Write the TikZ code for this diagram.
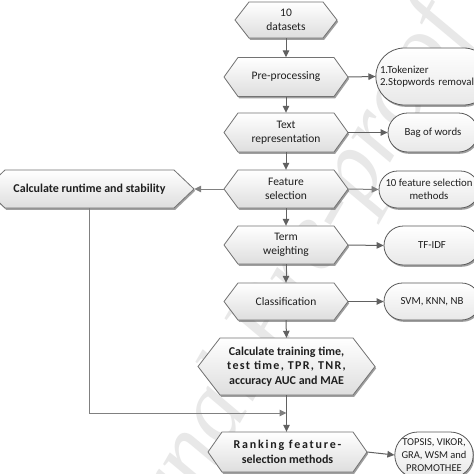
\documentclass[tikz,border=0pt]{standalone}
\usepackage{fontspec}
\setmainfont{Carlito}
\newfontfamily\wmfont{Liberation Serif}
\usetikzlibrary{arrows.meta,shapes.misc,shadows,calc}
\newcommand\fmain{\fontsize{11.5}{13.5}\selectfont}
\newcommand\fbig{\fontsize{12}{14.5}\selectfont\bfseries}
\newcommand\fboxt{\fontsize{10.8}{12.5}\selectfont}
\tikzset{
  shad/.style={drop shadow={shadow xshift=1.2pt, shadow yshift=-1.8pt, opacity=0.5, fill=black!75}},
  hexsty/.style={draw=black!55, line width=0.8pt, top color=white, bottom color=black!13, shad},
  hextxt/.style={inner sep=0pt, align=center, text=black!88},
  rbox/.style={rounded rectangle, draw=black!65, line width=0.8pt, top color=white, bottom color=black!9, shad,
    align=center, inner sep=2pt, font=\fboxt, text=black!88},
  conn/.style={draw=black!62, line width=1pt, -{Triangle[length=7pt,width=6.5pt]}},
  connl/.style={draw=black!50, line width=1pt, -{Triangle[length=7pt,width=6.5pt]}}
}
% name, cx, cy, half width, half height, slant, text, font
\newcommand\hexnode[8]{%
  \path[hexsty] (#2-#4,#3) -- (#2-#4+#6,#3-#5) -- (#2+#4-#6,#3-#5) -- (#2+#4,#3)
     -- (#2+#4-#6,#3+#5) -- (#2-#4+#6,#3+#5) -- cycle;
  \node[hextxt, minimum width=2*#4pt, minimum height=2*#5pt, font=#8] (#1) at (#2,#3) {#7};}
\begin{document}
\begin{tikzpicture}[x=1pt,y=-1pt]
\useasboundingbox (0,0) rectangle (474,474);
\fill[white] (0,0) rectangle (474,474);
% watermark
\node[rotate=60, text=black!9, font=\wmfont\itshape\fontsize{100}{100}\selectfont, inner sep=0pt] (wm) at (268,326) {Journal Pre-proof};
% main column
\hexnode{ds}{286}{20}{51}{18}{14}{10\\datasets}{\fmain}
\hexnode{pre}{286}{77}{62}{19.5}{14}{Pre-processing}{\fmain}
\hexnode{txt}{286}{132.5}{62}{19.5}{14}{Text\\representation}{\fmain}
\hexnode{fs}{286}{189}{62}{19}{14}{Feature\\selection}{\fmain}
\hexnode{tw}{286}{245}{62}{19}{14}{Term\\weighting}{\fmain}
\hexnode{cl}{286}{301.5}{62}{18.5}{14}{Classification}{\fmain}
\hexnode{calc}{286.5}{366.5}{88.5}{28.5}{22}{Calculate training time,\\{\addfontfeatures{LetterSpace=11}test time, TPR, TNR,}\\accuracy AUC and MAE}{\fbig}
\hexnode{rank}{287.5}{452}{79.5}{20}{14}{{\addfontfeatures{LetterSpace=15}Ranking feature-}\\selection methods}{\fbig}
\hexnode{run}{89.5}{189}{104.5}{19}{20}{Calculate runtime and stability}{\fbig}
% right boxes
\node[rbox, minimum width=112pt, minimum height=57pt, align=left, text width=108pt, inner xsep=2pt] (tok) at (434,76.5) {1.Tokenizer\\2.Stopwords removal};
\node[rbox, minimum width=94pt, minimum height=39pt] (bag) at (433,132.5) {Bag of words};
\node[rbox, minimum width=104pt, minimum height=37pt] (fsm) at (429,189.5) {10 feature selection\\methods};
\node[rbox, minimum width=100pt, minimum height=39pt] (tfidf) at (432,245.5) {TF-IDF};
\node[rbox, minimum width=100pt, minimum height=37pt] (svm) at (432,301.5) {SVM, KNN, NB};
\node[rbox, minimum width=78pt, minimum height=46pt, inner sep=0pt, font=\fontsize{10.5}{12.8}\selectfont] (top) at (434,455) {TOPSIS, VIKOR,\\GRA, WSM and\\PROMOTHEE};
% vertical connectors
\draw[conn] (ds.south) -- (pre.north);
\draw[conn] (pre.south) -- (txt.north);
\draw[conn] (txt.south) -- (fs.north);
\draw[conn] (fs.south) -- (tw.north);
\draw[conn] (tw.south) -- (cl.north);
\draw[conn] (cl.south) -- (calc.north);
\draw[conn] (calc.south) -- (calc.south |- rank.north);
% horizontal connectors
\draw[conn] (pre.east) -- (tok.west);
\draw[conn] (txt.east) -- (bag.west);
\draw[connl] (fs.east) -- (fsm.west);
\draw[conn] (tw.east) -- (tfidf.west);
\draw[conn] (cl.east) -- (svm.west);
\draw[conn] (rank.east) -- (top.west);
\draw[connl] (fs.west) -- (run.east);
% runtime feedback
\coordinate (join) at (286.5,413);
\draw[connl] (run.south) |- (join);
\end{tikzpicture}
\end{document}
